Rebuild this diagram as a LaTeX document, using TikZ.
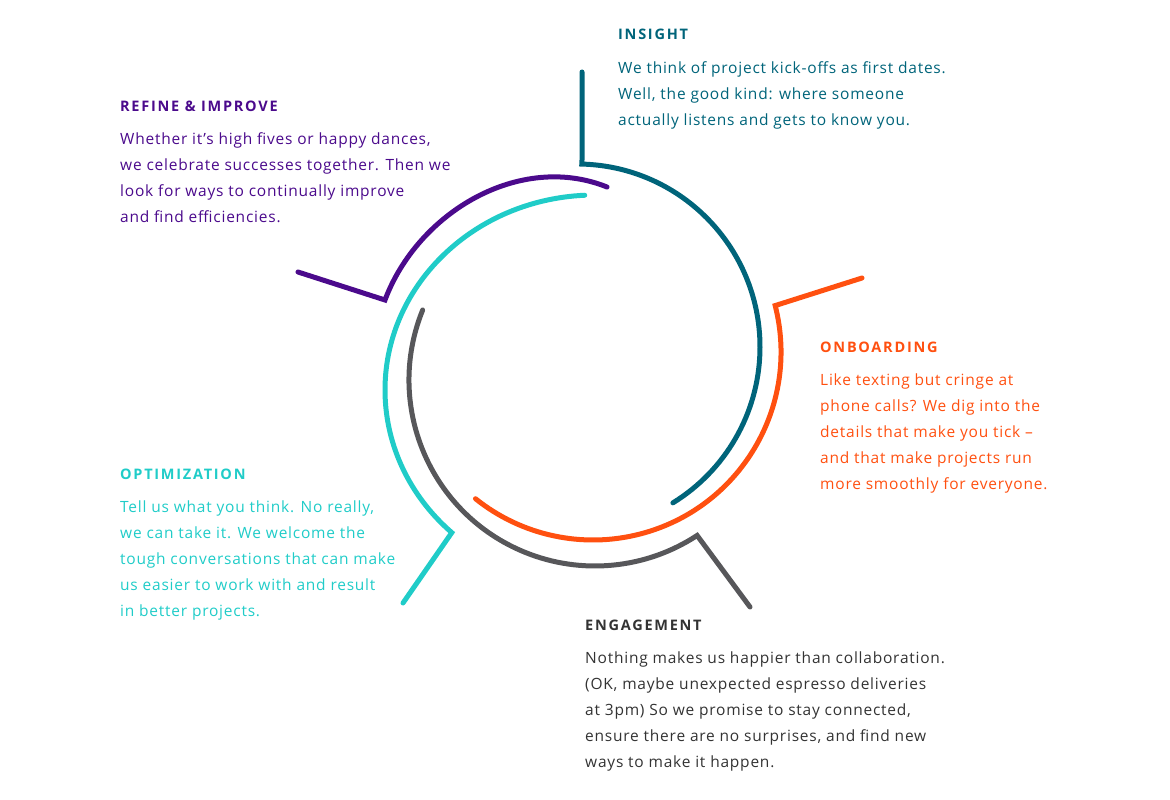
\documentclass[tikz,border=0pt]{standalone}
\usepackage{fontspec}
\usetikzlibrary{calc}
\setmainfont{Open Sans}
\definecolor{cteal}{HTML}{00647A}
\definecolor{cpurp}{HTML}{4B0A8C}
\definecolor{corng}{HTML}{FF5010}
\definecolor{ccyan}{HTML}{20CCC8}
\definecolor{cgray}{HTML}{57575A}
\definecolor{cdark}{HTML}{333333}
\begin{document}
\begin{tikzpicture}[x=1pt,y=1pt,
  arc/.style={line width=5pt,line cap=round,line join=miter},
  head/.style={anchor=north west,inner sep=0pt,font=\fontsize{14.5}{14}\selectfont\bfseries\addfontfeatures{LetterSpace=12}},
  body/.style={anchor=north west,inner sep=0pt,align=left,font=\fontsize{15.5}{26}\selectfont\addfontfeatures{LetterSpace=5}}]
\useasboundingbox (0,0) rectangle (1170,-800);
% arcs
\coordinate (ct) at (577,-347);
\coordinate (co) at (593,-352);
\coordinate (cg) at (595,-380);
\coordinate (cc) at (595,-390);
\draw[arc,cteal] (582,-72) -- (582,-160) -- ($(ct)+(88.5:183)$) arc[start angle=88.5,end angle=-58.4,radius=183];
\draw[arc,corng] (862,-278) -- (777,-305) -- ($(co)+(14.3:188)$) arc[start angle=14.3,end angle=-128.7,radius=188];
\draw[arc,cgray] ($(cg)+(157.9:186)$) arc[start angle=157.9,end angle=303.3,radius=186] -- (750,-607);
\draw[arc,ccyan] ($(cc)+({210*cos(92.8)},{195*sin(92.8)})$) arc[start angle=92.8,end angle=227,x radius=210,y radius=195] -- (403,-603);
\draw[arc,cpurp] (298,-272) -- (385,-300) .. controls (418,-212) and (520,-152) .. (607,-187);
% texts
\node[head,text=cteal] (h1) at (618,-29) {INSIGHT};
\node[body,text=cteal] (b1) at (618,-61) {We think of project kick-offs as first dates.\\Well, the good kind: where someone\\actually listens and gets to know you.};
\node[head,text=cpurp] (h2) at (120,-101) {REFINE \& IMPROVE};
\node[body,text=cpurp] (b2) at (120,-132) {Whether it’s high fives or happy dances,\\we celebrate successes together. Then we\\look for ways to continually improve\\and find efficiencies.};
\node[head,text=corng] (h3) at (820,-342) {ONBOARDING};
\node[body,text=corng] (b3) at (820,-374) {Like texting but cringe at\\phone calls? We dig into the\\details that make you tick –\\and that make projects run\\more smoothly for everyone.};
\node[head,text=ccyan] (h4) at (120,-469) {OPTIMIZATION};
\node[body,text=ccyan] (b4) at (120,-501) {Tell us what you think. No really,\\we can take it. We welcome the\\tough conversations that can make\\us easier to work with and result\\in better projects.};
\node[head,text=cdark] (h5) at (585,-620) {ENGAGEMENT};
\node[body,text=cdark] (b5) at (585,-652) {Nothing makes us happier than collaboration.\\(OK, maybe unexpected espresso deliveries\\at 3pm) So we promise to stay connected,\\ensure there are no surprises, and find new\\ways to make it happen.};
\end{tikzpicture}
\end{document}
